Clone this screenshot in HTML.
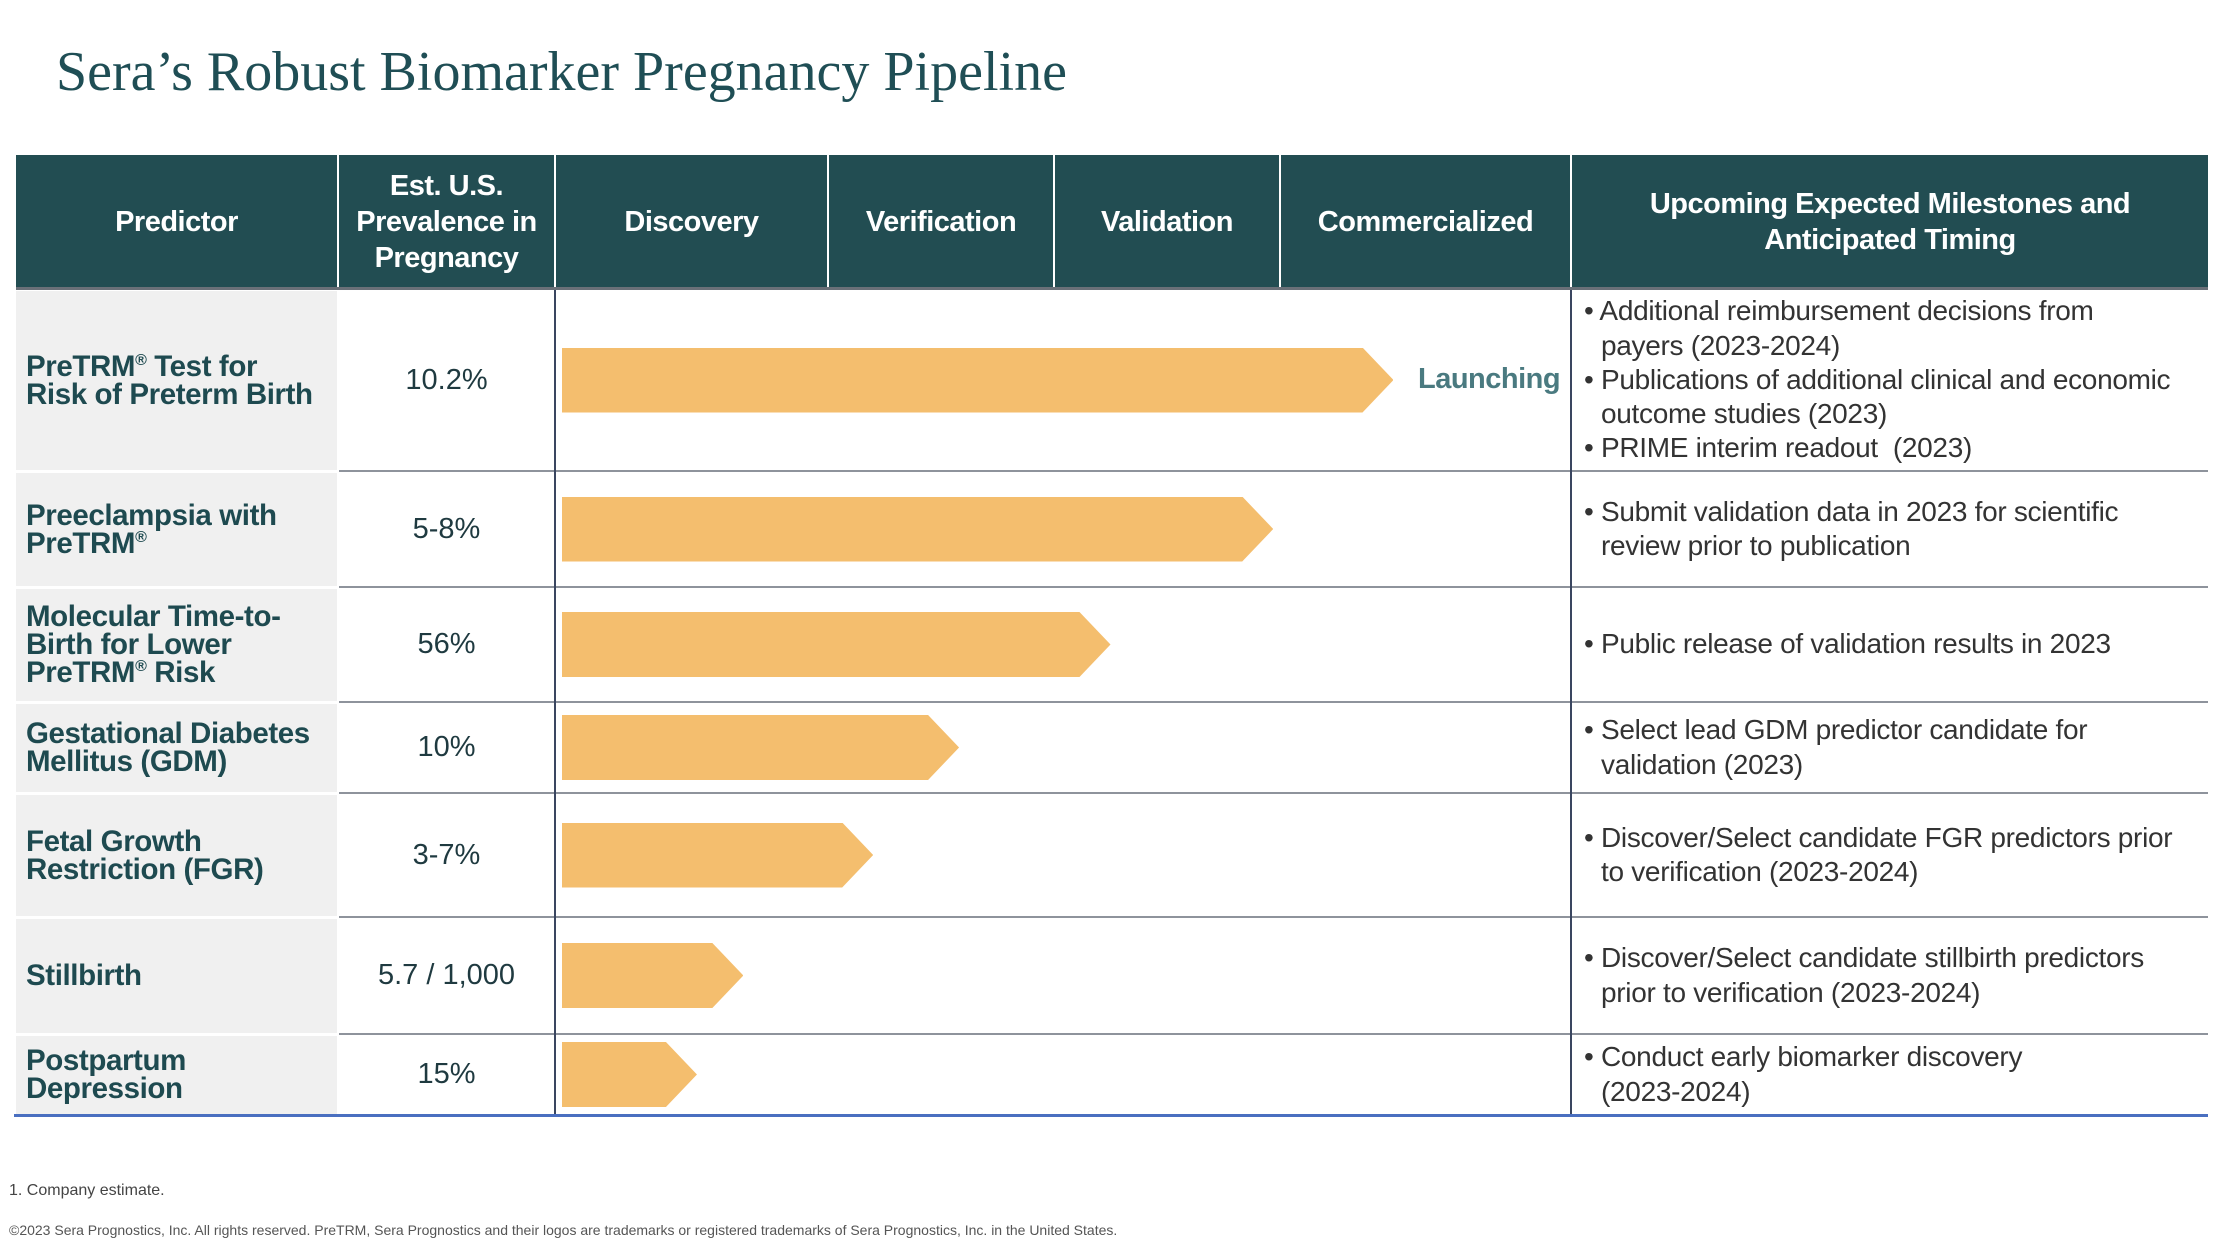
<!DOCTYPE html>
<html><head><meta charset="utf-8"><style>
body{margin:0;width:2228px;height:1254px;background:#fff;position:relative;overflow:hidden;font-family:"Liberation Sans",sans-serif}
.a{position:absolute;box-sizing:border-box}
.hd{background:#224d52;color:#fff;font-weight:bold;font-size:29px;display:flex;align-items:center;justify-content:center;text-align:center;line-height:36px;letter-spacing:-0.5px}
.pr{background:#f0f0f0;color:#1e4a50;font-weight:bold;font-size:29.5px;line-height:28px;display:flex;align-items:center;padding-left:10px;letter-spacing:-0.4px}
.pv{color:#1f3a40;font-size:29px;display:flex;align-items:center;justify-content:center}
.ms{color:#333;font-size:28px;line-height:34.3px;display:flex;flex-direction:column;justify-content:center;padding-left:12px;letter-spacing:-0.3px;white-space:nowrap}
.ms div{padding-left:17px;text-indent:-17px}
sup{font-size:16px;line-height:0}
</style></head><body>
<div class="a" style="left:56px;top:40px;font-family:'Liberation Serif',serif;font-size:56px;color:#1f4e55">Sera’s Robust Biomarker Pregnancy Pipeline</div>
<div class="a hd" style="left:16px;top:155px;width:321px;height:134px">Predictor</div>
<div class="a hd" style="left:339px;top:155px;width:215px;height:134px">Est. U.S.<br>Prevalence in<br>Pregnancy</div>
<div class="a hd" style="left:556px;top:155px;width:271px;height:134px">Discovery</div>
<div class="a hd" style="left:829px;top:155px;width:224px;height:134px">Verification</div>
<div class="a hd" style="left:1055px;top:155px;width:224px;height:134px">Validation</div>
<div class="a hd" style="left:1281px;top:155px;width:289px;height:134px">Commercialized</div>
<div class="a hd" style="left:1572px;top:155px;width:636px;height:134px">Upcoming Expected Milestones and<br>Anticipated Timing</div>
<div id="rows"></div>
<div class="a" style="left:9px;top:1182px;font-size:16px;color:#444">1. Company estimate.</div>
<div class="a" style="left:9px;top:1222px;font-size:14px;color:#555">©2023 Sera Prognostics, Inc. All rights reserved. PreTRM, Sera Prognostics and their logos are trademarks or registered trademarks of Sera Prognostics, Inc. in the United States.</div>
<script>
const predictors=["PreTRM<sup>®</sup> Test for<br>Risk of Preterm Birth","Preeclampsia with<br>PreTRM<sup>®</sup>","Molecular Time-to-<br>Birth for Lower<br>PreTRM<sup>®</sup> Risk","Gestational Diabetes<br>Mellitus (GDM)","Fetal Growth<br>Restriction (FGR)","Stillbirth","Postpartum<br>Depression"];
const prevalence=["10.2%","5-8%","56%","10%","3-7%","5.7 / 1,000","15%"];
const progress=[3.39,2.97,2.25,1.58,1.2,0.69,0.52];
const milestones=[["Additional reimbursement decisions from<br>payers (2023-2024)","Publications of additional clinical and economic<br>outcome studies (2023)","PRIME interim readout&nbsp; (2023)"],["Submit validation data in 2023 for scientific<br>review prior to publication"],["Public release of validation results in 2023"],["Select lead GDM predictor candidate for<br>validation (2023)"],["Discover/Select candidate FGR predictors prior<br>to verification (2023-2024)"],["Discover/Select candidate stillbirth predictors<br>prior to verification (2023-2024)"],["Conduct early biomarker discovery<br>(2023-2024)"]];
const rowEdges=[289,471,587,702,793,917,1034,1115];
const stageEdges=[555,828,1054,1280,1571];
function xScale(v){const i=Math.min(Math.floor(v),3);return stageEdges[i]+(v-i)*(stageEdges[i+1]-stageEdges[i]);}
const R=document.getElementById('rows');
function mk(cls,st,html){const d=document.createElement('div');d.className='a '+cls;d.setAttribute('style',st);d.innerHTML=html||'';R.appendChild(d);return d;}
predictors.forEach((p,i)=>{
 const t=rowEdges[i],h=rowEdges[i+1]-rowEdges[i];
 let d=mk('pr',`left:16px;top:${t+2}px;width:321px;height:${h-3}px`,'<span>'+p+'</span>');
 
 
 d=mk('pv',`left:339px;top:${t}px;width:215px;height:${h}px`,prevalence[i]);
 
 
 d=mk('ms',`left:1572px;top:${t}px;width:636px;height:${h}px`,milestones[i].map(m=>'<div>• '+m+'</div>').join(''));
 
 
 if(i>0){d=mk('',`left:339px;top:${t-1}px;width:1869px;height:2px;background:#8e939c`);
 
 }
 const tip=xScale(progress[i]),bh=65,bt=t+h/2-bh/2;
 d=mk('',`left:562px;top:${bt}px;width:${tip-562}px;height:${bh}px;background:#f4be6e;clip-path:polygon(0 0,calc(100% - 31px) 0,100% 50%,calc(100% - 31px) 100%,0 100%)`);
 
 
});
let d=mk('',`left:554px;top:289px;width:2px;height:826px;background:#3a4660`);


d=mk('',`left:1570px;top:289px;width:2px;height:826px;background:#3a4660`);


d=mk('',`left:16px;top:287px;width:2192px;height:3px;background:#6a7078`);


d=mk('',`left:14px;top:1114px;width:2194px;height:3px;background:#4a6fc0`);


d=mk('',`left:1418px;top:363px;font-size:29px;font-weight:bold;color:#4a7a80;letter-spacing:-0.5px`,'Launching');


</script>
</body></html>
